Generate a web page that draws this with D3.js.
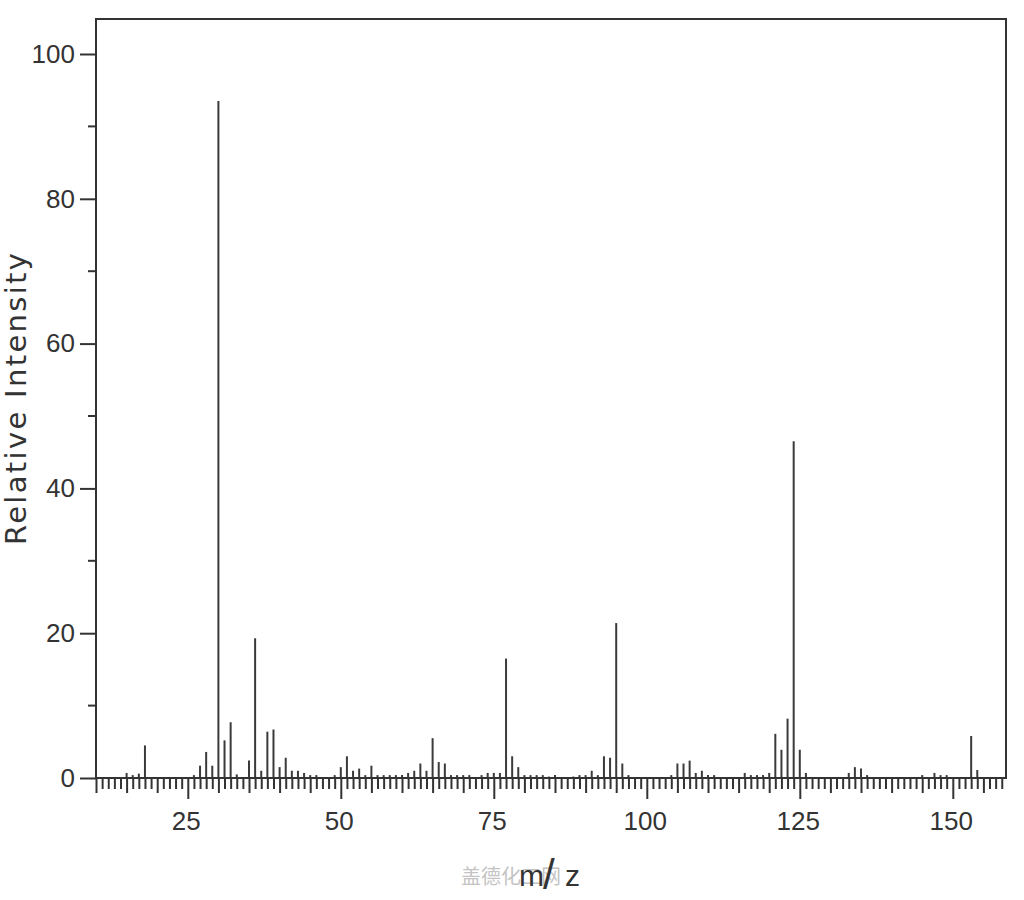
<!DOCTYPE html>
<html>
<head>
<meta charset="utf-8">
<script src="https://cdn.jsdelivr.net/npm/d3@7"></script>
<style>
  html, body { margin: 0; padding: 0; background: #fff; }
  svg { display: block; }
</style>
</head>
<body>
<svg id="chart" width="1024" height="900"></svg>
<script>
// m/z values of the peaks
const mz = [15,16,17,18,26,27,28,29,30,31,32,33,35,36,37,38,39,40,41,42,43,44,45,46,49,50,51,52,53,54,55,56,57,58,59,60,61,62,63,64,65,66,67,68,69,70,71,73,74,75,76,77,78,79,80,81,82,83,84,85,88,89,90,91,92,93,94,95,96,97,104,105,106,107,108,109,110,111,116,117,118,119,120,121,122,123,124,125,126,133,134,135,136,145,147,148,149,153,154];
// relative intensities (%)
const intensity = [0.7,0.4,0.6,4.5,0.4,1.7,3.6,1.7,93.5,5.2,7.7,0.5,2.4,19.3,1.0,6.4,6.7,1.5,2.8,1.0,1.0,0.7,0.4,0.4,0.4,1.5,3.0,1.0,1.3,0.4,1.7,0.4,0.4,0.4,0.4,0.4,0.7,1.0,2.0,1.0,5.5,2.2,2.0,0.4,0.4,0.4,0.4,0.4,0.7,0.7,0.7,16.5,3.0,1.5,0.4,0.4,0.4,0.4,0.2,0.4,0.2,0.4,0.4,1.0,0.4,3.0,2.8,21.4,2.0,0.4,0.4,2.0,2.0,2.4,0.7,1.0,0.4,0.4,0.7,0.4,0.4,0.4,0.7,6.1,3.9,8.2,46.5,3.9,0.7,0.7,1.5,1.3,0.4,0.4,0.7,0.4,0.4,5.8,1.1];
const xTickLabels = [25,50,75,100,125,150];
const yTickLabels = [0,20,40,60,80,100];
const yMinorTicks = [10,30,50,70,90];
const xLabel = "m/z";
const yLabel = "Relative Intensity";
const watermark = "盖德化工网";

const svg = d3.select("#chart");
const L = 96, R = 1006, T = 19, B = 778;
const x = d3.scaleLinear().domain([10, 10 + (R - L) / 6.12]).range([L, R]);
const y = d3.scaleLinear().domain([0, (B - T) / 7.24]).range([B, T]);
const ink = "#333";
const tickFont = "'Liberation Sans', Arial, sans-serif";

// watermark behind the x label
svg.append("text")
  .attr("x", 511).attr("y", 884)
  .attr("text-anchor", "middle")
  .attr("font-family", "'Noto Sans CJK SC', sans-serif")
  .attr("font-size", 20)
  .attr("fill", "#c4c4c4")
  .text(watermark);

// peaks
svg.append("g").selectAll("line")
  .data(mz.map((m, i) => ({ m, v: intensity[i] })))
  .join("line")
  .attr("x1", d => x(d.m)).attr("x2", d => x(d.m))
  .attr("y1", y(0)).attr("y2", d => y(d.v))
  .attr("stroke", "#3a3a3a")
  .attr("stroke-width", 2);

// x axis with a tick at every unit
const xTicks = d3.range(10, 159);
const xAxis = d3.axisBottom(x)
  .tickValues(xTicks)
  .tickSize(11)
  .tickPadding(20)
  .tickFormat(d => xTickLabels.includes(d) ? d : "");
const gx = svg.append("g").attr("transform", `translate(0,${B})`).call(xAxis);
gx.select(".domain").remove();
gx.selectAll(".tick line")
  .attr("stroke", ink).attr("stroke-width", 2)
  .attr("y2", d => d % 25 === 0 ? 21 : (d % 5 === 0 ? 15 : 11));
gx.selectAll(".tick text")
  .attr("font-family", tickFont).attr("font-size", 26).attr("fill", ink)
  .attr("y", 34).attr("dy", "0.71em")
  .attr("dx", -2);

// y axis
const yAxis = d3.axisLeft(y)
  .tickValues(yTickLabels)
  .tickSize(16)
  .tickPadding(5);
const gy = svg.append("g").attr("transform", `translate(${L},0)`).call(yAxis);
gy.select(".domain").remove();
gy.selectAll(".tick line").attr("stroke", ink).attr("stroke-width", 2);
gy.selectAll(".tick text")
  .attr("font-family", tickFont).attr("font-size", 26).attr("fill", ink);
svg.append("g").selectAll("line")
  .data(yMinorTicks)
  .join("line")
  .attr("x1", L - 8).attr("x2", L)
  .attr("y1", d => y(d)).attr("y2", d => y(d))
  .attr("stroke", ink).attr("stroke-width", 2);

// frame
svg.append("rect")
  .attr("x", L).attr("y", T)
  .attr("width", R - L).attr("height", B - T)
  .attr("fill", "none")
  .attr("stroke", ink).attr("stroke-width", 2);

// y label
svg.append("text")
  .attr("transform", "translate(26,399) rotate(-90)")
  .attr("text-anchor", "middle")
  .attr("font-family", "'DejaVu Sans', Verdana, sans-serif")
  .attr("font-size", 29)
  .attr("fill", ink)
  .attr("textLength", 292)
  .attr("lengthAdjust", "spacing")
  .text(yLabel);

// x label "m/z"
const parts = xLabel.split("");
svg.append("text").attr("x", 519).attr("y", 886)
  .attr("font-family", tickFont).attr("font-size", 30).attr("fill", ink).text(parts[0]);
svg.append("text").attr("x", 543).attr("y", 889)
  .attr("font-family", tickFont).attr("font-size", 42).attr("fill", ink).text(parts[1]);
svg.append("text").attr("x", 565).attr("y", 886)
  .attr("font-family", tickFont).attr("font-size", 30).attr("fill", ink).text(parts[2]);
</script>
</body>
</html>
